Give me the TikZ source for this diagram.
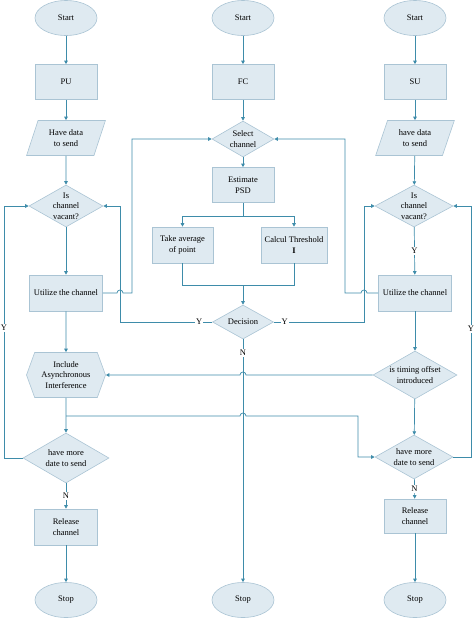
\documentclass[tikz,border=0pt]{standalone}
\usepackage{fontspec}
\setmainfont{Liberation Serif}
\usetikzlibrary{shapes.geometric,shapes.symbols,arrows.meta}
\definecolor{boxfill}{RGB}{223,234,241}
\definecolor{boxline}{RGB}{170,196,212}
\definecolor{flow}{RGB}{62,140,170}
\begin{document}
\begin{tikzpicture}[x=1pt,y=-1pt,
  every node/.style={font=\fontsize{8.5}{10.5}\selectfont, align=center, text=black},
  base/.style={draw=boxline, fill=boxfill, line width=0.6pt, inner sep=0pt},
  term/.style={base, ellipse, minimum width=62pt, minimum height=35pt},
  proc/.style={base, rectangle, minimum width=62pt, minimum height=35pt},
  io/.style={base, trapezium, trapezium left angle=67, trapezium right angle=113,
    trapezium stretches=true, minimum width=79pt, minimum height=35pt},
  dec/.style={base, diamond},
  hexa/.style={base, signal, signal to=west and east, signal pointer angle=140,
    minimum width=79pt, minimum height=45pt},
  arr/.style={draw=flow, line width=0.7pt, -{Triangle[width=3.5pt,length=3.5pt]}},
  ln/.style={draw=flow, line width=0.7pt},
  lbl/.style={fill=white, inner sep=1pt}]
\useasboundingbox (0,0) rectangle (474,619);

% left column
\node[term] (startL) at (66,18) {Start};
\node[proc] (pu) at (66,82) {PU};
\node[io] (haveL) at (66,138) {Have data\\to send};
\node[dec, minimum width=74pt, minimum height=42pt] (vacL) at (66,206) {};
\node (vacLt) at (vacL) {Is\\channel\\vacant?};
\node[proc, minimum width=73pt, minimum height=36pt] (utilL) at (66,293) {Utilize the channel};
\node[hexa] (incl) at (66,375) {Include\\Asynchronous\\Interference};
\node[dec, minimum width=86pt, minimum height=50pt] (moreL) at (66,458) {};
\node (moreLt) at (moreL) {have more\\date to send};
\node[proc, minimum width=63pt, minimum height=36pt] (relL) at (66,527) {Release\\channel};
\node[term] (stopL) at (66,600) {Stop};

% center column
\node[term] (startC) at (243,18) {Start};
\node[proc] (fc) at (243,82) {FC};
\node[dec, minimum width=62pt, minimum height=36pt] (sel) at (243,139) {};
\node (selt) at (sel) {Select\\channel};
\node[proc] (psd) at (243,185) {Estimate\\PSD};
\node[proc, minimum width=61pt, minimum height=36pt] (avg) at (182.5,245) {Take average\\of point};
\node[proc, minimum width=66pt, minimum height=36pt] (thr) at (294,245) {Calcul Threshold\\\textbf{I}};
\node[dec, minimum width=61pt, minimum height=34pt] (decn) at (243,322) {};
\node (decnt) at (decn) {Decision};
\node[term] (stopC) at (243,600) {Stop};

% right column
\node[term] (startR) at (415,18) {Start};
\node[proc] (su) at (415,82) {SU};
\node[io] (haveR) at (415,138) {have data\\to send};
\node[dec, minimum width=78pt, minimum height=42pt] (vacR) at (414,206) {};
\node (vacRt) at (vacR) {Is\\channel\\vacant?};
\node[proc, minimum width=73pt, minimum height=36pt] (utilR) at (415,293) {Utilize the channel};
\node[dec, minimum width=84pt, minimum height=48pt] (tim) at (415,375) {};
\node (timt) at (tim) {is timing offset\\introduced};
\node[dec, minimum width=78pt, minimum height=44pt] (moreR) at (414,457) {};
\node (moreRt) at (moreR) {have more\\date to send};
\node[proc, minimum width=62pt, minimum height=34pt] (relR) at (415,516) {Release\\channel};
\node[term] (stopR) at (415,600) {Stop};

% left straight flow
\draw[arr] (startL) -- (pu);
\draw[arr] (pu) -- (haveL);
\draw[arr] (haveL) -- (vacL);
\draw[arr] (vacL) -- (utilL);
\draw[arr] (utilL) -- (incl);
\draw[arr] (incl) -- (moreL);
\draw[arr] (moreL) -- node[lbl]{N} (relL);
\draw[arr] (relL) -- (stopL);

% center straight flow
\draw[arr] (startC) -- (fc);
\draw[arr] (fc) -- (sel);
\draw[arr] (sel) -- (psd);
\coordinate (split) at (243,216);
\draw[ln] (psd) -- (split);
\draw[arr] (split) -| (avg.north);
\draw[arr] (split) -| (thr.north);
\coordinate (join) at (243,285);
\draw[ln] (avg.south) |- (join);
\draw[ln] (thr.south) |- (join);
\draw[arr] (join) -- (decn.north);
\draw[arr] (decn.south) -- node[lbl,pos=0.057]{N} (stopC.north);

% right straight flow
\draw[arr] (startR) -- (su);
\draw[arr] (su) -- (haveR);
\draw[arr] (haveR) -- (vacR);
\draw[arr] (vacR) -- node[lbl]{Y} (utilR);
\draw[arr] (utilR) -- (tim);
\draw[arr] (tim) -- (moreR);
\draw[arr] (moreR) -- node[lbl]{N} (relR);
\draw[arr] (relR) -- (stopR);

% decision Y loops
\coordinate (yl) at (120,322);
\coordinate (yr) at (364,322);
\draw[arr] (decn.west) -- node[lbl,pos=0.14]{Y} (yl) |- (vacL.east);
\draw[arr] (decn.east) -- node[lbl,pos=0.12]{Y} (yr) |- (vacR.west);

% utilize back to select channel (with hops)
\draw[arr] (utilL.east) -- (117,293) arc(180:360:3) -- (132,293) |- (sel.west);
\draw[arr] (utilR.west) -- (367,293) arc(0:-180:3) -- (345,293) |- (sel.east);

% timing offset to include interference
\draw[arr] (tim.west) -- (246,375) arc(0:-180:3) -- (incl.east);

% branch to right have-more
\coordinate (br) at (66,416);
\draw[arr] (br) -- (240,416) arc(180:360:3) -- (358,416) |- (moreR.west);

% have-more Y loops
\draw[arr] (moreL.west) -- (4,458) -- node[lbl,pos=0.516]{Y} (4,206) -- (vacL.west);
\draw[arr] (moreR.east) -- (471,457) -- node[lbl,pos=0.51]{Y} (471,206) -- (vacR.east);
\end{tikzpicture}
\end{document}
